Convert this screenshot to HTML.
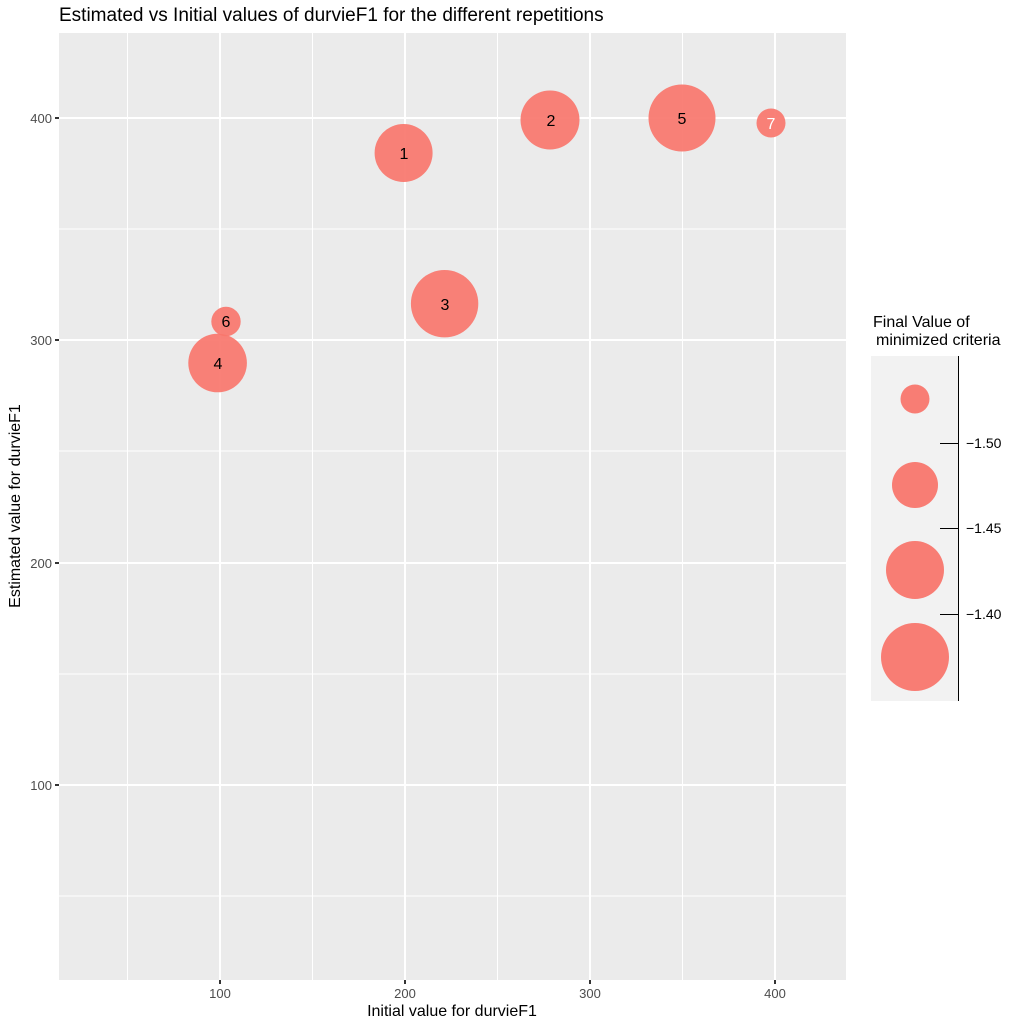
<!DOCTYPE html>
<html><head><meta charset="utf-8"><style>body{margin:0;background:#fff}svg{display:block}text{font-family:"Liberation Sans",Arial,sans-serif}</style></head>
<body>
<svg width="1018" height="1022" viewBox="0 0 1018 1022" xmlns="http://www.w3.org/2000/svg">
<rect width="1018" height="1022" fill="#fff"/>
<text x="59" y="21" font-size="19" fill="#000">Estimated vs Initial values of durvieF1 for the different repetitions</text>
<rect x="59" y="33" width="787" height="947" fill="#ebebeb"/>
<g stroke="#fff" stroke-width="1">
<line x1="127.5" y1="33" x2="127.5" y2="980"/><line x1="312.5" y1="33" x2="312.5" y2="980"/><line x1="497.5" y1="33" x2="497.5" y2="980"/><line x1="682.5" y1="33" x2="682.5" y2="980"/>
<line x1="59" y1="229" x2="846" y2="229"/><line x1="59" y1="451" x2="846" y2="451"/><line x1="59" y1="674" x2="846" y2="674"/><line x1="59" y1="896" x2="846" y2="896"/>
</g>
<g stroke="#fff" stroke-width="2">
<line x1="220" y1="33" x2="220" y2="980"/><line x1="405" y1="33" x2="405" y2="980"/><line x1="590" y1="33" x2="590" y2="980"/><line x1="775" y1="33" x2="775" y2="980"/>
<line x1="59" y1="118" x2="846" y2="118"/><line x1="59" y1="340" x2="846" y2="340"/><line x1="59" y1="563" x2="846" y2="563"/><line x1="59" y1="785" x2="846" y2="785"/>
</g>
<g stroke="#333" stroke-width="2">
<line x1="220" y1="980" x2="220" y2="984"/><line x1="405" y1="980" x2="405" y2="984"/><line x1="590" y1="980" x2="590" y2="984"/><line x1="775" y1="980" x2="775" y2="984"/>
<line x1="55" y1="118" x2="59" y2="118"/><line x1="55" y1="340" x2="59" y2="340"/><line x1="55" y1="563" x2="59" y2="563"/><line x1="55" y1="785" x2="59" y2="785"/>
</g>
<g font-size="13" fill="#4d4d4d" text-anchor="middle">
<text x="220" y="998">100</text><text x="405" y="998">200</text><text x="590" y="998">300</text><text x="775" y="998">400</text>
</g>
<g font-size="13" fill="#4d4d4d" text-anchor="end">
<text x="52" y="123">400</text><text x="52" y="345">300</text><text x="52" y="568">200</text><text x="52" y="790">100</text>
</g>
<text x="452" y="1016" font-size="16" text-anchor="middle">Initial value for durvieF1</text>
<text transform="translate(20,506) rotate(-90)" font-size="16" text-anchor="middle">Estimated value for durvieF1</text>
<g fill="#F8766D" fill-opacity="0.92">
<circle cx="403.6" cy="153" r="29"/><circle cx="550" cy="120" r="29.5"/><circle cx="444.6" cy="303.7" r="33.7"/>
<circle cx="217.6" cy="363" r="29.3"/><circle cx="682" cy="118" r="33.5"/><circle cx="226" cy="321.5" r="14.7"/><circle cx="771" cy="123" r="14.5"/>
</g>
<g font-size="16" text-anchor="middle">
<text x="404" y="159">1</text><text x="551" y="126">2</text><text x="445" y="310">3</text><text x="218" y="369">4</text><text x="682" y="124">5</text><text x="226" y="327">6</text><text x="771" y="129" fill="#fff">7</text>
</g>
<text x="873" y="327" font-size="16">Final Value of</text>
<text x="876" y="345" font-size="16">minimized criteria</text>
<rect x="871" y="356" width="87" height="345" fill="#f2f2f2"/>
<g fill="#F8766D" fill-opacity="0.95">
<circle cx="915" cy="399" r="14.5"/><circle cx="915" cy="485" r="23"/><circle cx="915" cy="570" r="29"/><circle cx="915" cy="657" r="34"/>
</g>
<g stroke="#000" stroke-width="1">
<line x1="958.5" y1="356" x2="958.5" y2="701"/>
<line x1="940" y1="443.5" x2="958" y2="443.5"/><line x1="940" y1="528.5" x2="958" y2="528.5"/><line x1="940" y1="614.5" x2="958" y2="614.5"/>
</g>
<g font-size="14" fill="#000">
<text x="966" y="448">−1.50</text><text x="966" y="533">−1.45</text><text x="966" y="619">−1.40</text>
</g>
</svg>
</body></html>
